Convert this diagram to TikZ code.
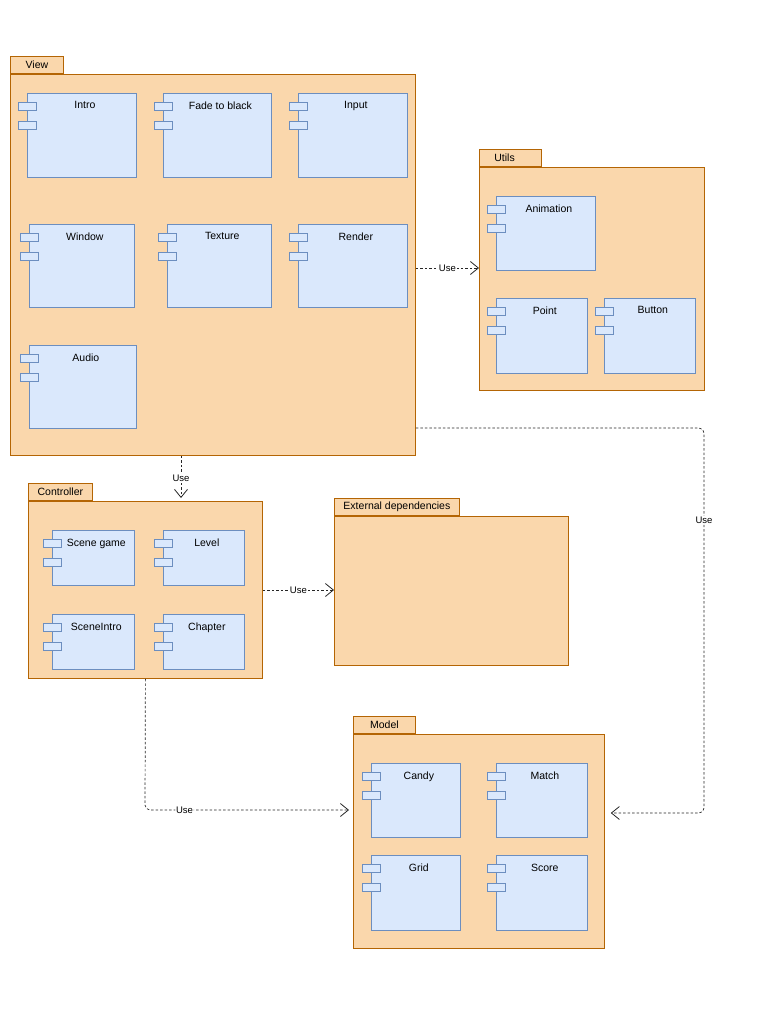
\documentclass[tikz,border=0pt]{standalone}
\usepackage{fontspec}
\setmainfont{Liberation Sans}
\usepackage{tikz}
\usetikzlibrary{arrows.meta}
\usetikzlibrary{positioning}

\definecolor{pkgfill}{HTML}{FAD7AC}
\definecolor{pkgline}{HTML}{B46504}
\definecolor{compfill}{HTML}{DAE8FC}
\definecolor{compline}{HTML}{6C8EBF}

\begin{document}
\begin{tikzpicture}[x=1pt, y=-1pt,
    pkg/.style={draw=pkgline, fill=pkgfill, line width=0.8pt, anchor=north west, inner sep=0pt},
    tab/.style={draw=pkgline, fill=pkgfill, line width=0.8pt, anchor=south west, minimum height=17pt, inner sep=0pt, font=\fontsize{10.5}{12}\selectfont},
    comp/.style={draw=compline, fill=compfill, line width=0.7pt, anchor=north west, inner sep=0pt},
    cname/.style={anchor=north, inner sep=0pt, yshift=-8.5pt, xshift=3pt, font=\fontsize{10.5}{12}\selectfont},
    port/.style={draw=compline, fill=compfill, line width=0.7pt},
    use/.style={draw=black!85, line width=0.7pt, dash pattern=on 2.5pt off 2pt, -{Straight Barb[length=8pt,width=13pt,line width=0.8pt]}},
    lbl/.style={fill=white, inner sep=1pt, font=\fontsize{9.5}{11}\selectfont}]
  \useasboundingbox (0,0) rectangle (768,1024);

  % packages
  \node[pkg, minimum width=405pt, minimum height=381pt] (view) at (10,74) {};
  \node[tab, minimum width=53pt] (viewtab) at (view.north west) {View};
  \node[pkg, minimum width=225pt, minimum height=223pt] (utils) at (479,167) {};
  \node[tab, minimum width=62pt, inner xsep=15pt, text width=32pt] (utilstab) at (utils.north west) {Utils};
  \node[pkg, minimum width=234pt, minimum height=177pt] (ctrl) at (28,501) {};
  \node[tab, minimum width=64pt] (ctrltab) at (ctrl.north west) {Controller};
  \node[pkg, minimum width=234pt, minimum height=149pt] (ext) at (334,516) {};
  \node[tab, minimum width=125pt] (exttab) at (ext.north west) {External dependencies};
  \node[pkg, minimum width=251pt, minimum height=214pt] (model) at (353,734) {};
  \node[tab, minimum width=62pt] (modeltab) at (model.north west) {Model};

  % components of View
  \node[comp, minimum width=109pt, minimum height=84pt, label={[cname]north:Intro}] (intro) at (27,93) {};
  \node[comp, minimum width=108pt, minimum height=84pt, label={[cname]north:Fade to black}] (fade) at (163,93) {};
  \node[comp, minimum width=109pt, minimum height=84pt, label={[cname]north:Input}] (input) at (298,93) {};
  \node[comp, minimum width=105pt, minimum height=83pt, label={[cname]north:Window}] (window) at (29,224) {};
  \node[comp, minimum width=104pt, minimum height=83pt, label={[cname]north:Texture}] (texture) at (167,224) {};
  \node[comp, minimum width=109pt, minimum height=83pt, label={[cname]north:Render}] (render) at (298,224) {};
  \node[comp, minimum width=107pt, minimum height=83pt, label={[cname]north:Audio}] (audio) at (29,345) {};

  % components of Utils
  \node[comp, minimum width=99pt, minimum height=74pt, label={[cname]north:Animation}] (anim) at (496,196) {};
  \node[comp, minimum width=91pt, minimum height=75pt, label={[cname]north:Point}] (point) at (496,298) {};
  \node[comp, minimum width=91pt, minimum height=75pt, label={[cname]north:Button}] (button) at (604,298) {};

  % components of Controller
  \node[comp, minimum width=82pt, minimum height=55pt, label={[cname]north:Scene game}] (scenegame) at (52,530) {};
  \node[comp, minimum width=81pt, minimum height=55pt, label={[cname]north:Level}] (level) at (163,530) {};
  \node[comp, minimum width=82pt, minimum height=55pt, label={[cname]north:SceneIntro}] (sceneintro) at (52,614) {};
  \node[comp, minimum width=81pt, minimum height=55pt, label={[cname]north:Chapter}] (chapter) at (163,614) {};

  % components of Model
  \node[comp, minimum width=89pt, minimum height=74pt, label={[cname]north:Candy}] (candy) at (371,763) {};
  \node[comp, minimum width=91pt, minimum height=74pt, label={[cname]north:Match}] (match) at (496,763) {};
  \node[comp, minimum width=89pt, minimum height=75pt, label={[cname]north:Grid}] (grid) at (371,855) {};
  \node[comp, minimum width=91pt, minimum height=75pt, label={[cname]north:Score}] (score) at (496,855) {};

  % ports
  \foreach \c in {intro,fade,input,window,texture,render,audio,anim,point,button,scenegame,level,sceneintro,chapter,candy,match,grid,score} {
    \draw[port] ([xshift=-9pt,yshift=-9pt]\c.north west) rectangle ++(18,8);
    \draw[port] ([xshift=-9pt,yshift=-28pt]\c.north west) rectangle ++(18,8);
  }

  % dependencies
  \draw[use] (view.east |- 0,268) -- node[lbl]{Use} (utils.west |- 0,268);
  \draw[use, shorten >=3pt] (view.south -| 181,0) -- node[lbl]{Use} (ctrl.north -| 181,0);
  \draw[use] (ctrl.east |- 0,590) -- node[lbl]{Use} (ext.west |- 0,590);
  \draw[use, rounded corners=5pt, shorten >=4pt] (ctrl.south) -- (145,810) -- node[lbl, pos=0.19]{Use} (model.west |- 0,810);
  \draw[use, rounded corners=5pt, shorten >=6pt] (view.east |- 0,428) -- (704,428) -- node[lbl, pos=0.24]{Use} (704,813) -- (model.east |- 0,813);
\end{tikzpicture}
\end{document}
